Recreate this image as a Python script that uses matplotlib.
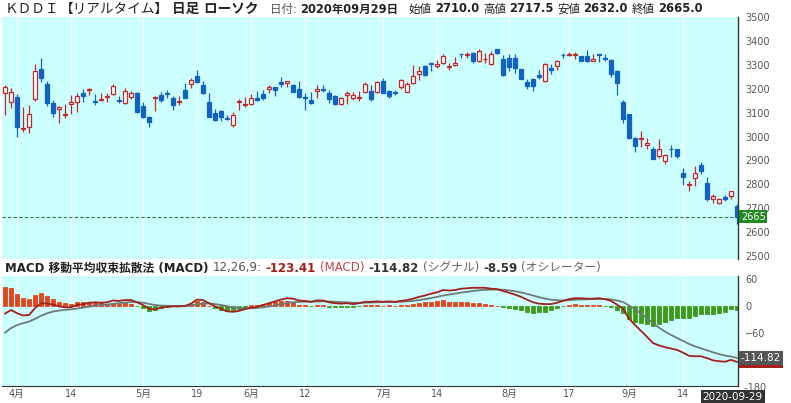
import numpy as np
import matplotlib
matplotlib.use("Agg")
import matplotlib.pyplot as plt

plt.rcParams['font.family'] = ['DejaVu Sans', 'Noto Sans CJK JP']

# daily OHLC, 2020-03-30 .. 2020-09-29
opens = [3181, 3143, 3164, 3030, 3039, 3156, 3285, 3221, 3142, 3114,
         3090, 3138, 3143, 3184, 3195, 3149, 3154, 3165, 3177, 3153,
         3139, 3164, 3184, 3128, 3080, 3163, 3174, 3184, 3160, 3143,
         3195, 3220, 3253, 3216, 3143, 3097, 3107, 3078, 3048, 3145,
         3131, 3135, 3160, 3178, 3200, 3208, 3227, 3225, 3218, 3201,
         3167, 3153, 3190, 3201, 3183, 3169, 3135, 3176, 3160, 3162,
         3188, 3192, 3188, 3234, 3190, 3188, 3206, 3188, 3225, 3264,
         3295, 3310, 3296, 3310, 3292, 3299, 3348, 3340, 3352, 3317,
         3323, 3302, 3365, 3327, 3331, 3331, 3282, 3229, 3240, 3257,
         3234, 3289, 3296, 3342, 3342, 3341, 3337, 3337, 3317, 3348,
         3330, 3320, 3274, 3146, 3094, 2995, 2988, 2963, 2950, 2918,
         2899, 2950, 2948, 2846, 2797, 2825, 2881, 2804, 2737, 2723,
         2748, 2752, 2710]
highs = [3216, 3204, 3178, 3125, 3132, 3306, 3330, 3232, 3153, 3128,
         3135, 3174, 3181, 3198, 3202, 3178, 3184, 3184, 3220, 3170,
         3202, 3192, 3188, 3146, 3086, 3170, 3188, 3195, 3170, 3170,
         3223, 3246, 3278, 3232, 3181, 3114, 3111, 3090, 3104, 3156,
         3167, 3178, 3192, 3197, 3215, 3208, 3250, 3234, 3222, 3232,
         3183, 3185, 3215, 3218, 3194, 3174, 3167, 3192, 3188, 3190,
         3229, 3215, 3234, 3246, 3194, 3197, 3243, 3229, 3299, 3295,
         3299, 3310, 3320, 3348, 3309, 3334, 3348, 3355, 3355, 3365,
         3351, 3359, 3365, 3341, 3345, 3345, 3285, 3243, 3246, 3281,
         3309, 3302, 3320, 3352, 3355, 3355, 3337, 3362, 3345, 3348,
         3344, 3327, 3278, 3153, 3094, 2999, 3024, 2992, 2955, 2989,
         2927, 2964, 2948, 2869, 2814, 2876, 2892, 2832, 2758, 2741,
         2755, 2773, 2717.5]
lows = [3090, 3121, 3000, 3020, 3016, 3149, 3230, 3129, 3083, 3058,
        3079, 3094, 3104, 3146, 3174, 3132, 3149, 3145, 3174, 3139,
        3135, 3159, 3100, 3076, 3039, 3108, 3146, 3160, 3111, 3132,
        3160, 3202, 3223, 3177, 3080, 3066, 3066, 3069, 3041, 3111,
        3125, 3132, 3149, 3153, 3183, 3169, 3206, 3206, 3185, 3162,
        3111, 3136, 3162, 3188, 3139, 3132, 3132, 3136, 3155, 3150,
        3183, 3150, 3183, 3181, 3160, 3174, 3201, 3185, 3220, 3239,
        3253, 3275, 3288, 3306, 3278, 3295, 3331, 3331, 3310, 3313,
        3309, 3299, 3345, 3254, 3275, 3267, 3240, 3199, 3190, 3240,
        3229, 3261, 3278, 3330, 3337, 3323, 3316, 3313, 3316, 3313,
        3317, 3250, 3176, 3058, 2989, 2936, 2957, 2950, 2904, 2911,
        2885, 2915, 2911, 2797, 2773, 2793, 2843, 2731, 2723, 2717,
        2731, 2737, 2632]
closes = [3206, 3188, 3041, 3037, 3094, 3274, 3246, 3142, 3100, 3122,
          3094, 3146, 3170, 3170, 3199, 3143, 3158, 3170, 3210, 3149,
          3192, 3181, 3104, 3083, 3062, 3167, 3153, 3178, 3132, 3149,
          3163, 3237, 3227, 3181, 3083, 3069, 3080, 3072, 3090, 3149,
          3135, 3160, 3153, 3162, 3206, 3197, 3222, 3234, 3188, 3167,
          3162, 3139, 3201, 3197, 3157, 3136, 3162, 3181, 3174, 3167,
          3222, 3157, 3227, 3183, 3171, 3183, 3236, 3220, 3253, 3275,
          3260, 3306, 3302, 3337, 3296, 3309, 3344, 3344, 3317, 3358,
          3327, 3348, 3351, 3257, 3292, 3289, 3243, 3211, 3213, 3250,
          3306, 3281, 3317, 3340, 3347, 3345, 3317, 3316, 3327, 3340,
          3326, 3264, 3225, 3073, 2992, 2960, 2992, 2974, 2906, 2948,
          2922, 2946, 2918, 2832, 2801, 2846, 2855, 2738, 2751, 2737,
          2737, 2773, 2665]

# MACD (12,26,9) and signal line
macd = [-17, -9, -16, -21, -20, -5, 6, 5, 3, -1,
        -3, -3, 2, 4, 7, 8, 7, 8, 12, 11,
        13, 13, 8, 2, -6, -8, -4, -2, -1, -1,
        0, 5, 14, 13, 6, -1, -6, -12, -13, -11,
        -7, -4, -2, 2, 6, 10, 14, 17, 16, 12,
        11, 9, 12, 12, 8, 6, 5, 6, 4, 6,
        9, 9, 10, 9, 10, 9, 11, 13, 16, 20,
        23, 27, 30, 35, 34, 35, 38, 39, 40, 40,
        40, 38, 37, 33, 29, 25, 20, 14, 8, 5,
        4, 4, 7, 11, 15, 17, 17, 16, 16, 17,
        15, 11, 3, -6, -28, -42, -55, -68, -82, -87,
        -91, -94, -97, -103, -110, -111, -111, -115, -120, -122,
        -123, -119, -123.41]
signal = [-59, -49, -42.4, -38.1, -34.5, -28.6, -21.7, -16.4, -12.5, -10.2,
          -8.8, -7.6, -5.7, -3.8, -1.6, 0.3, 1.6, 2.9, 4.7, 6.0,
          7.4, 8.5, 8.4, 7.1, 4.5, 2.0, 0.8, 0.2, 0.0, -0.2,
          -0.2, 0.8, 3.4, 5.3, 5.4, 4.1, 2.1, -0.7, -3.2, -4.8,
          -5.2, -5.0, -4.4, -3.1, -1.3, 1.0, 3.6, 6.3, 8.2, 9.0,
          9.4, 9.3, 9.8, 10.2, 9.8, 9.0, 8.2, 7.8, 7.0, 6.8,
          7.2, 7.6, 8.1, 8.3, 8.6, 8.7, 9.2, 9.9, 11.1, 12.9,
          14.9, 17.3, 19.9, 22.9, 25.1, 27.1, 29.3, 31.2, 33.0, 34.4,
          35.5, 36.0, 36.2, 35.6, 34.3, 32.4, 29.9, 26.7, 23.0, 19.4,
          16.3, 13.8, 12.4, 12.1, 12.7, 13.6, 14.3, 14.6, 14.9, 15.3,
          15.2, 14.4, 12.1, 8.5, 1.2, -7.4, -16.9, -27.1, -38.1, -47.9,
          -56.5, -64.0, -70.6, -77.1, -83.7, -89.2, -93.6, -97.9, -102.3, -106.2,
          -109.6, -111.5, -114.82]

# x axis labels (trading-day index)
tick_pos = [2, 11, 23, 32, 41, 50, 63, 72, 84, 94, 104, 113]
tick_lbl = ['4月', '14', '5月', '19', '6月', '12', '7月', '14', '8月', '17', '9月', '14']
last_date = '2020-09-29'
price_ticks = list(range(2500, 3501, 100))
macd_ticks = [60, 0, -60, -120]

W, H = 791, 403
BG = '#ccffff'
RED = '#c0282a'
BLUE = '#1262c4'
GRAY = '#555555'

o = np.array(opens, float)
h = np.array(highs, float)
l = np.array(lows, float)
c = np.array(closes, float)
m = np.array(macd, float)
s = np.array(signal, float)
hist = m - s
x = np.arange(len(c))


def fx(px):
    return px / W


def fy(py):
    return 1 - py / H


fig = plt.figure(figsize=(W / 100, H / 100), dpi=100)
ax = fig.add_axes([fx(2), fy(259), fx(738) - fx(2), fy(17) - fy(259)])
ax2 = fig.add_axes([fx(2), fy(386), fx(738) - fx(2), fy(276) - fy(386)])

for a in (ax, ax2):
    a.set_facecolor(BG)
    for sp in ('top', 'left', 'bottom'):
        a.spines[sp].set_visible(False)
    a.spines['right'].set_color('#333333')
    a.spines['right'].set_linewidth(1.0)
    a.yaxis.tick_right()
    a.tick_params(axis='y', length=0, pad=5, labelsize=7, labelcolor=GRAY)
    a.set_xlim(-0.5, 122.17)
    a.set_xticks(tick_pos)
    a.grid(axis='x', color='white', lw=1.0, alpha=0.9)
    a.set_axisbelow(True)

# ---- candles
up = c >= o
body_lo = np.minimum(o, c)
body_h = np.maximum(np.abs(c - o), 1.5)
ax.vlines(x[up], l[up], h[up], color=RED, lw=0.9, zorder=2)
ax.vlines(x[~up], l[~up], h[~up], color=BLUE, lw=0.9, zorder=2)
ax.bar(x[up], body_h[up], bottom=body_lo[up], width=0.6,
       facecolor='white', edgecolor=RED, lw=0.9, zorder=3)
ax.bar(x[~up], body_h[~up], bottom=body_lo[~up], width=0.6,
       facecolor=BLUE, edgecolor=BLUE, lw=0.9, zorder=3)

ax.axhline(c[-1], color='#2b7d2b', lw=0.8, ls=(0, (3, 2)), zorder=1)
ax.set_ylim(2487, 3501)
ax.set_yticks(price_ticks)
ax.tick_params(axis='x', length=0, labelbottom=False)
ax.text(1.004, c[-1], '%d' % c[-1], transform=ax.get_yaxis_transform(),
        ha='left', va='center', fontsize=7, color='white', clip_on=False,
        bbox=dict(boxstyle='square,pad=0.15', fc='#1f8a1f', ec='none'), zorder=5)

# ---- MACD panel
hcol = np.where(hist >= 0, '#e2461e', '#3f9a1c')
ax2.bar(x, hist, width=0.62, color=hcol, edgecolor=hcol, lw=0.6, zorder=2)
ax2.plot(x, s, color='#6e7a7a', lw=1.3, zorder=3)
ax2.plot(x, m, color='#a3201c', lw=1.3, zorder=4)
ax2.set_ylim(-176.6, 66)
ax2.set_yticks(macd_ticks)
ax2.spines['bottom'].set_visible(True)
ax2.spines['bottom'].set_color('#333333')
ax2.set_xticklabels(tick_lbl)
ax2.tick_params(axis='x', length=0, pad=2, labelsize=7, labelcolor=GRAY)
ax2.text(1.0, -180, '  -180', transform=ax2.get_yaxis_transform(), ha='left',
         va='center', fontsize=7, color=GRAY, clip_on=False)
ax2.text(1.004, m[-1], '%.2f' % m[-1], transform=ax2.get_yaxis_transform(),
         ha='left', va='center', fontsize=7.5, color='white', clip_on=False,
         bbox=dict(boxstyle='square,pad=0.15', fc='#a3201c', ec='none'), zorder=5)
ax2.text(1.004, s[-1], '%.2f' % s[-1], transform=ax2.get_yaxis_transform(),
         ha='left', va='center', fontsize=7.5, color='white', clip_on=False,
         bbox=dict(boxstyle='square,pad=0.15', fc='#555555', ec='none'), zorder=6)
ax2.text(x[-1] - 0.7, -0.1, last_date, transform=ax2.get_xaxis_transform(),
         ha='center', va='center', fontsize=7.5, color='white', clip_on=False,
         bbox=dict(boxstyle='square,pad=0.2', fc='#333333', ec='none'), zorder=7)


# ---- header texts built piece by piece
def put_pieces(x0, y0, pieces):
    rend = fig.canvas.get_renderer()
    xp = x0
    for txt, col, wt, size, gap in pieces:
        t = fig.text(fx(xp), fy(y0), txt, fontsize=size, color=col,
                     fontweight=wt, ha='left', va='center')
        xp += t.get_window_extent(rend).width + gap


put_pieces(5, 9, [
    ('ＫＤＤＩ', '#222222', 'normal', 9.8, 0),
    ('【リアルタイム】', '#222222', 'normal', 9.8, 3),
    ('日足 ローソク', '#222222', 'bold', 9.8, 12),
    ('日付:', '#555555', 'normal', 8.3, 3),
    ('2020年09月29日', '#222222', 'bold', 8.3, 11),
    ('始値', '#222222', 'normal', 8.3, 3),
    ('%.1f' % o[-1], '#222222', 'bold', 8.3, 4),
    ('高値', '#222222', 'normal', 8.3, 3),
    ('%.1f' % h[-1], '#222222', 'bold', 8.3, 4),
    ('安値', '#222222', 'normal', 8.3, 3),
    ('%.1f' % l[-1], '#222222', 'bold', 8.3, 4),
    ('終値', '#222222', 'normal', 8.3, 3),
    ('%.1f' % c[-1], '#222222', 'bold', 8.3, 0),
])

put_pieces(5, 268, [
    ('MACD 移動平均収束拡散法 (MACD)', '#222222', 'bold', 8.5, 4),
    ('12,26,9:', '#555555', 'normal', 8.5, 4),
    ('%.2f' % m[-1], '#a3201c', 'bold', 8.5, 4),
    ('(MACD)', '#c04848', 'normal', 8.5, 4),
    ('%.2f' % s[-1], '#333333', 'bold', 8.5, 4),
    ('(シグナル)', '#666666', 'normal', 8.5, 4),
    ('%.2f' % hist[-1], '#333333', 'bold', 8.5, 4),
    ('(オシレーター)', '#666666', 'normal', 8.5, 0),
])

fig.savefig('out.png', dpi=100, facecolor='white')
